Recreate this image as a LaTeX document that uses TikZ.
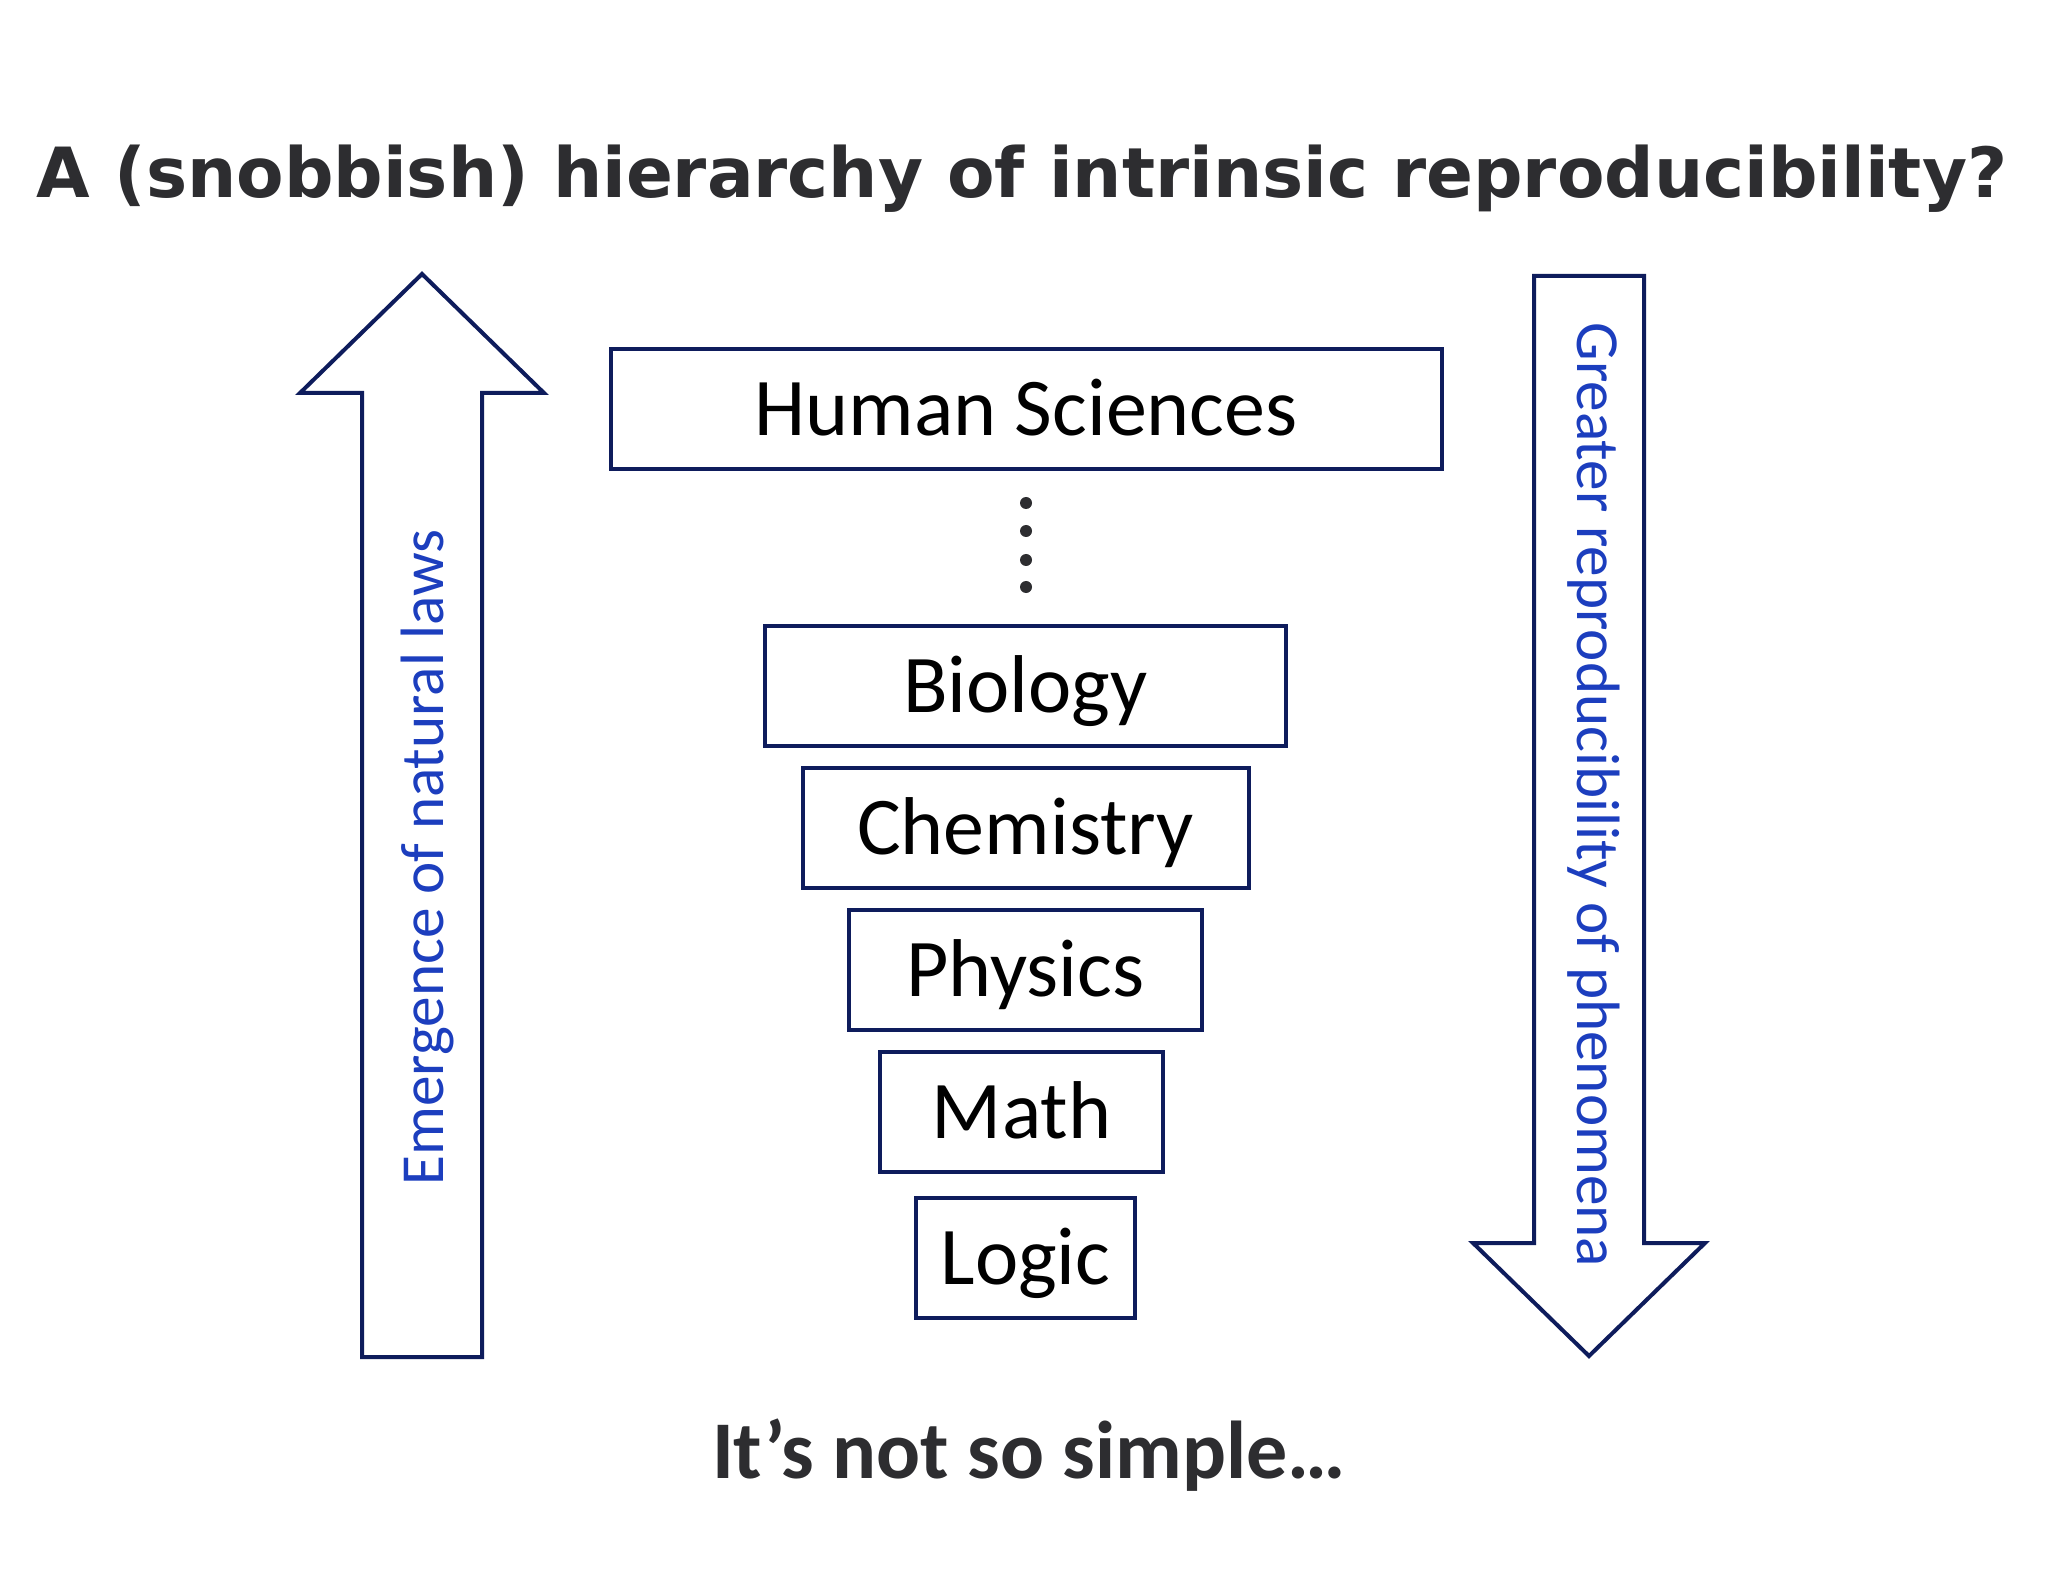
\documentclass[tikz,border=0pt]{standalone}
\usepackage{fontspec}
\setmainfont{Carlito}
\newfontfamily\titlefont{DejaVu Sans}
\usetikzlibrary{positioning}
\definecolor{navy}{RGB}{14,28,92}
\definecolor{lblblue}{RGB}{28,62,190}
\definecolor{inkgray}{RGB}{45,45,48}
\tikzset{
    scibox/.style={draw=navy,line width=2pt,inner sep=0pt,minimum height=60pt,
        text height=26.4pt,text depth=0pt,font=\fontsize{41}{48}\selectfont},
    biglabel/.style={text=lblblue,inner sep=0pt,font=\fontsize{30.6}{36}\selectfont},
    bigarrow/.style={draw=navy,line width=2pt,line join=miter}
}
\begin{document}
\begin{tikzpicture}[x=0.5pt,y=-0.5pt]
            \path[use as bounding box,fill=white] (0,0) rectangle (2048,1582);
            % title
            \node (title) at (1022,198) [anchor=base,text=inkgray,
                font=\titlefont\bfseries\fontsize{34.6}{40}\selectfont]
                {A (snobbish) hierarchy of intrinsic reproducibility?};
            % left arrow
            \draw[bigarrow]
                (362,1357)--(362,393)--(300,393)
                --(422,274)
                --(544,393)--(482,393)--(482,1357)--cycle;
            \node (emerge) [biglabel,rotate=90,anchor=base west] at (443,1186)
                {Emergence of natural laws};
            % right arrow
            \draw[bigarrow]
                (1534,276)--(1644,276)--(1644,1243)--(1705,1243)
                --(1589,1356)
                --(1473,1243)--(1534,1243)--cycle;
            \node (greater) [biglabel,rotate=-90,anchor=base west] at (1577,322)
                {Greater reproducibility of phenomena};
            % the sciences
            \node (hum) [scibox,minimum width=415.5pt] at (1026,409.5) {Human Sciences};
            \foreach \y in {503,531,560,587}
                \fill[inkgray] (1026,\y) circle (3pt);
            \node (bio) [scibox,minimum width=260.5pt] at (1025.5,686) {Biology};
            \node (chem) [scibox,minimum width=223pt,below=9pt of bio] {Chemistry};
            \node (phys) [scibox,minimum width=176.5pt,below=9pt of chem] {Physics};
            \node (math) [scibox,minimum width=141.5pt,below=9pt of phys,xshift=-2pt] {Math};
            \node (logic) [scibox,minimum width=109.5pt,below=11pt of math,xshift=2pt] {Logic};
            % bottom line
            \node (simple) at (1029,1478) [anchor=base,text=inkgray,
                font=\bfseries\fontsize{41}{48}\selectfont] {It’s not so simple…};
\end{tikzpicture}
\end{document}
